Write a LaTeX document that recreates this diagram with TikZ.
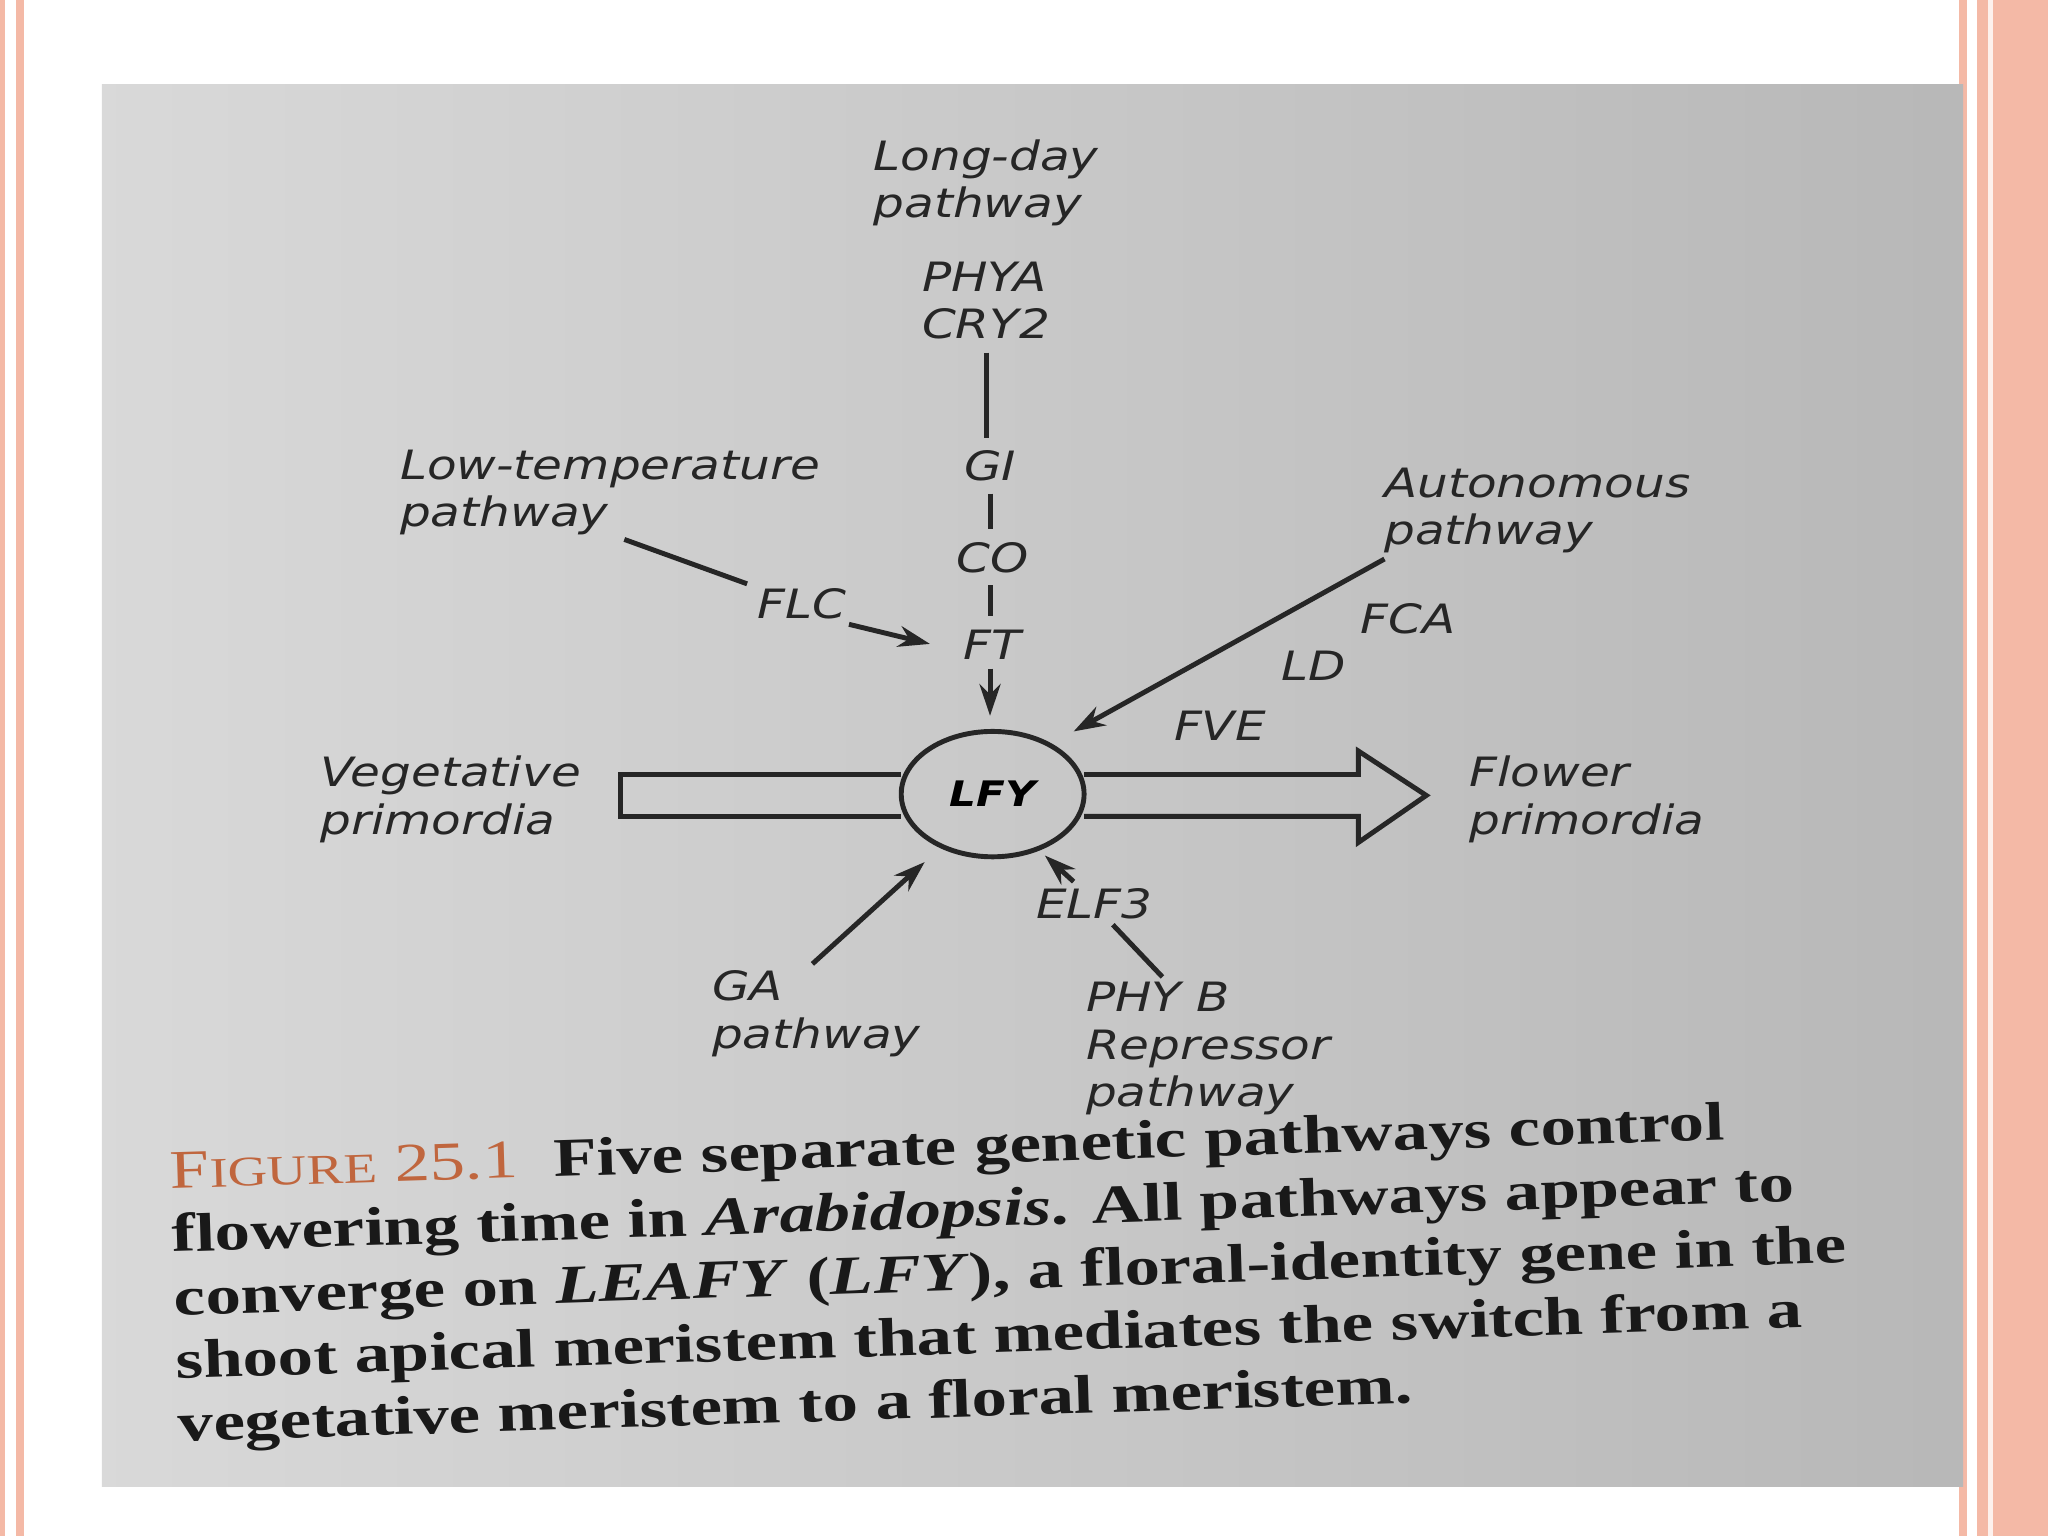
\documentclass[tikz,border=0pt]{standalone}
\usepackage{fontspec}
\setmainfont{Liberation Serif}[FakeStretch=1.3]
\newfontfamily\lab{DejaVu Sans}[FakeStretch=1.2]
\usetikzlibrary{arrows.meta}
\definecolor{pinkb}{HTML}{F4B9A6}
\definecolor{figc}{HTML}{C0663E}
\tikzset{lbl/.style={font=\lab\itshape\fontsize{11.5}{13.5}\selectfont,align=left,text=black!85},
 ln/.style={line width=1.4pt,black!85},
 ar/.style={ln,-{Stealth[length=9pt,width=6pt]}}}
\begin{document}
\begin{tikzpicture}[x=0.013061cm,y=-0.013061cm]
\useasboundingbox (0,0) rectangle (1568,1176);
\fill[white] (0,0) rectangle (1568,1176);
\fill[pinkb] (0,0) rectangle (4,1176);
\fill[pinkb] (12,0) rectangle (18,1176);
\fill[pinkb] (1500,0) rectangle (1506,1176);
\fill[pinkb] (1514,0) rectangle (1568,1176);
\fill[white!80!pinkb] (1522,0) rectangle (1526,1176);
\shade[left color=black!15, right color=black!28] (78,65) rectangle (1503,1138);
\node[lbl] (ld) at (755,140) {Long-day\\pathway};
\node[lbl] (phya) at (755,230) {PHYA\\CRY2};
\node[lbl] (gi) at (758,357) {GI};
\node[lbl] (co) at (760,427) {CO};
\node[lbl] (ft) at (760,494) {FT};
\draw[ln] (755,270) -- (755,335);
\draw[ln] (758,378) -- (758,405);
\draw[ln] (758,448) -- (758,472);
\draw[ar] (758,512) -- (758,548);
\coordinate (lfyc) at (760,608);
\draw[ln] (lfyc) ellipse [x radius=70, y radius=48];
\node[font=\lab\itshape\bfseries\fontsize{10}{12}\selectfont] (lfy) at (lfyc) {LFY};
\draw[ln] (690,593) -- (475,593) -- (475,625) -- (690,625);
\draw[ln] (830,593) -- (1040,593) -- (1040,575) -- (1092,609) -- (1040,645) -- (1040,625) -- (830,625);
\node[lbl] (veg) at (345,612) {Vegetative\\primordia};
\node[lbl] (flo) at (1215,612) {Flower\\primordia};
\node[lbl] (lt) at (467,377) {Low-temperature\\pathway};
\draw[ln] (478,413) -- (572,447);
\node[lbl] (flc) at (614,462) {FLC};
\draw[ar] (650,478) -- (712,493);
\node[lbl] (au) at (1177,391) {Autonomous\\pathway};
\draw[ar] (1060,428) -- (822,560);
\node[lbl] at (1078,474) {FCA};
\node[lbl] at (1006,510) {LD};
\node[lbl] at (934,556) {FVE};
\draw[ar] (622,738) -- (708,660);
\node[lbl] at (625,776) {GA\\pathway};
\node[lbl] (elf) at (838,692) {ELF3};
\draw[ar] (822,675) -- (800,655);
\draw[ln] (890,748) -- (852,708);
\node[lbl] at (925,803) {PHY B\\Repressor\\pathway};
\node[rotate=1.8,anchor=north west,align=left,font=\bfseries\fontsize{15.5}{18}\selectfont,text=black!90] at (120,872)
{{\color{figc}\mdseries F{\fontsize{12}{14}\selectfont IGURE} 25.1}\ \ Five separate genetic pathways control\\
flowering time in \textit{Arabidopsis}. All pathways appear to\\
converge on \textit{LEAFY} (\textit{LFY}), a floral-identity gene in the\\
shoot apical meristem that mediates the switch from a\\
vegetative meristem to a floral meristem.};
\end{tikzpicture}
\end{document}
